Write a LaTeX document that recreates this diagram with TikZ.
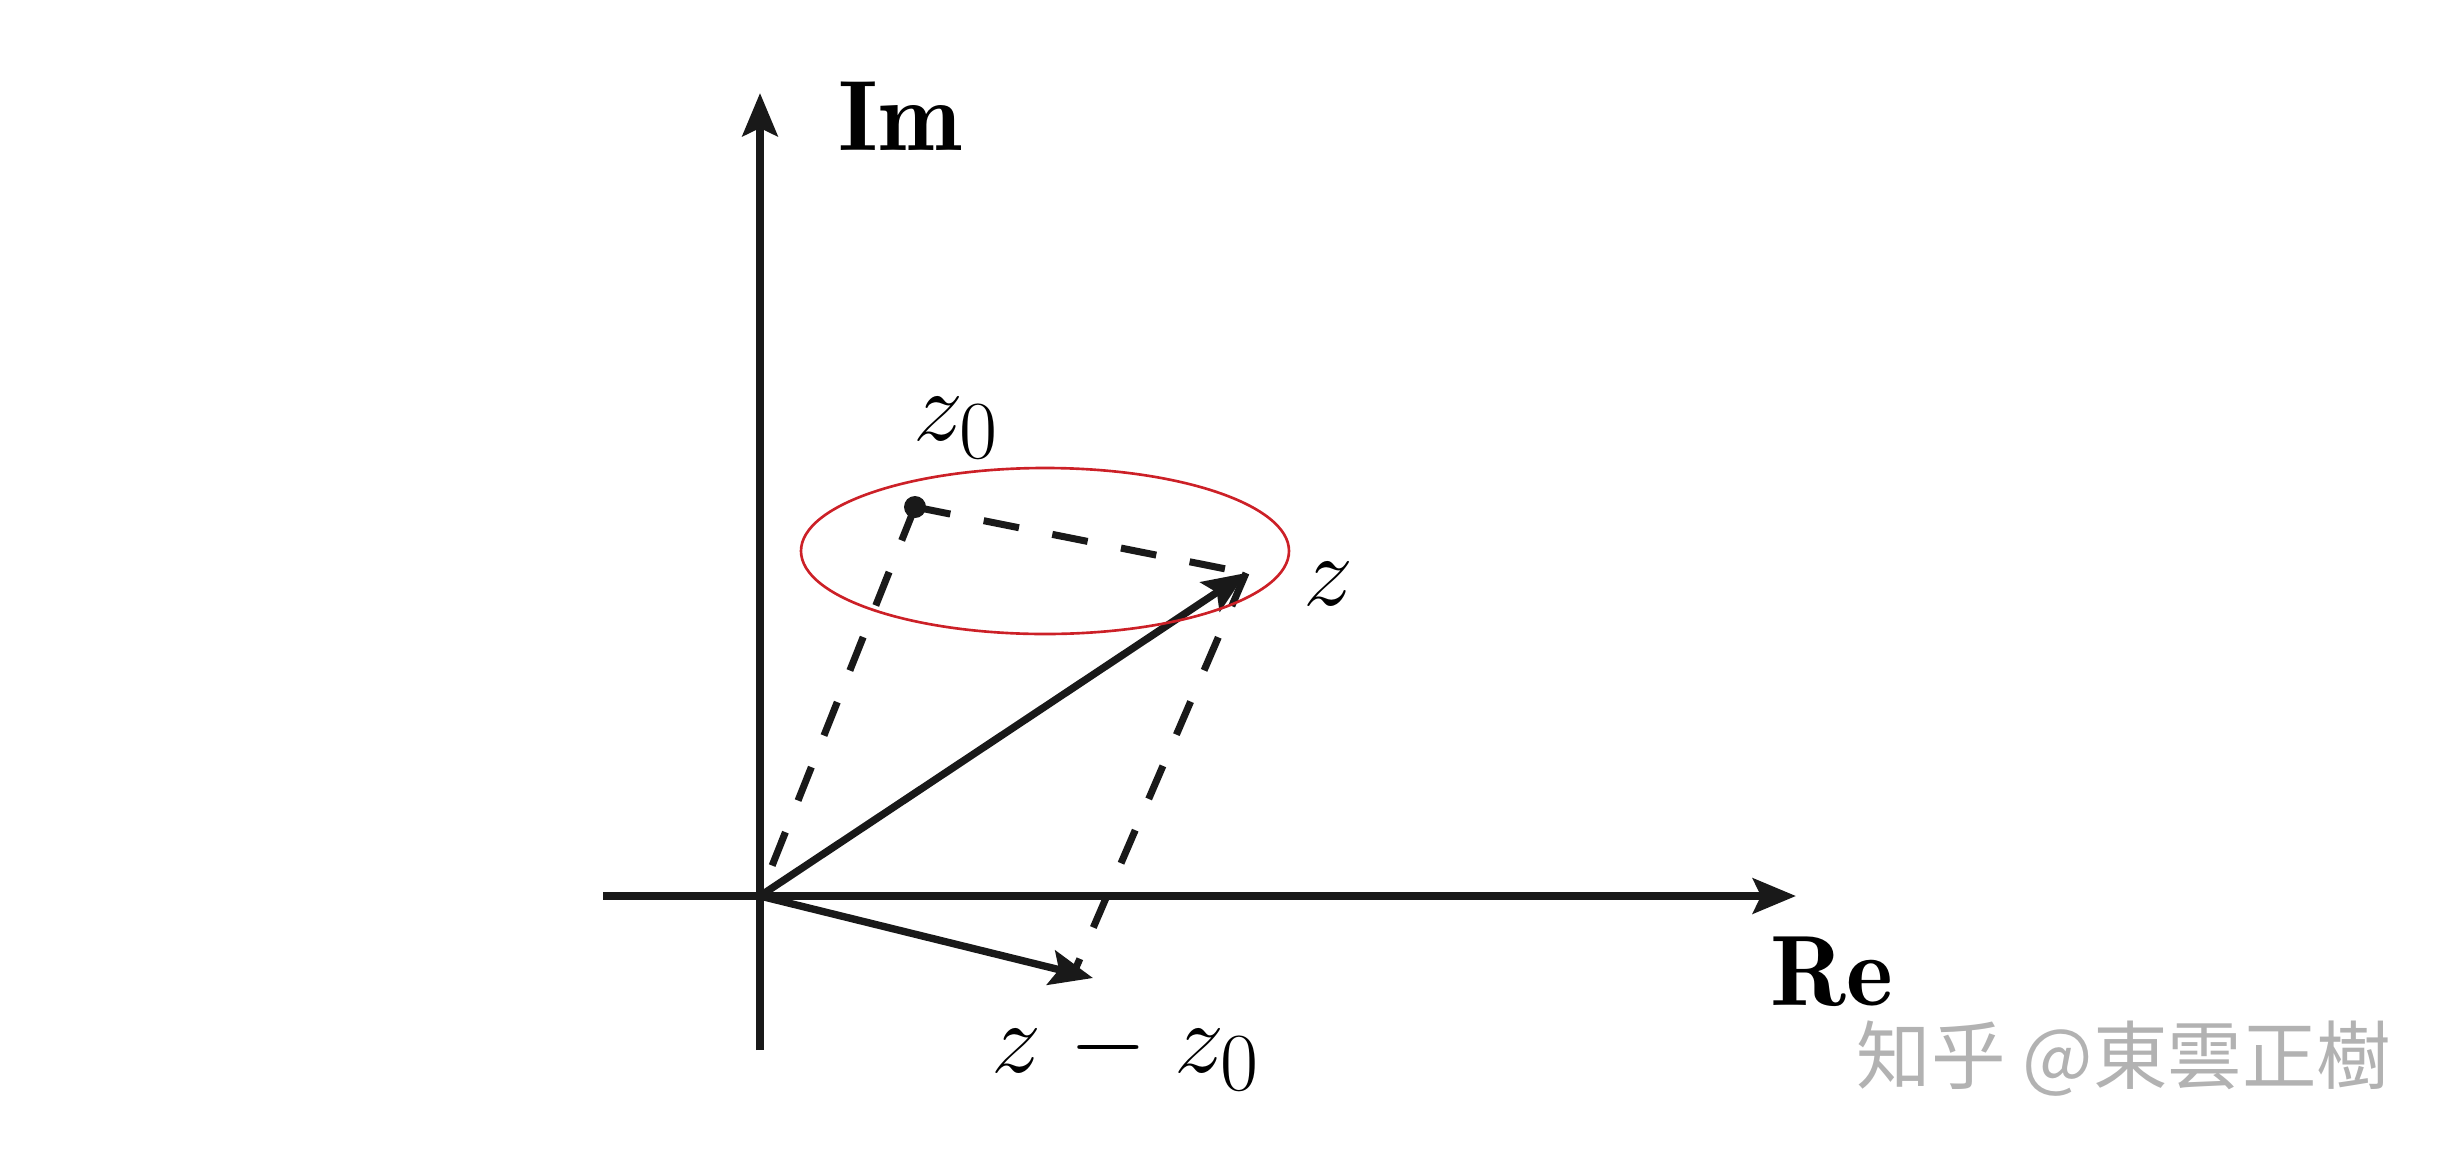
\RequirePackage{fix-cm}
\documentclass[tikz,border=0pt]{standalone}
\usepackage{amsmath}
\usepackage{fontspec}
\newfontfamily\demifont{lmromandemi10-regular.otf}
\newfontfamily\cjkfont{Noto Sans CJK SC}
\usepackage{tikz}
\usetikzlibrary{arrows.meta}
\DeclareMathSizes{28.45}{28.45}{23.5}{18}
\definecolor{discred}{RGB}{204,32,39}
\definecolor{markgray}{RGB}{178,178,178}

\begin{document}
\begin{tikzpicture}
    \tikzstyle{axis} = [
      line width=2.3pt,
      -{Stealth[length=4.3mm,width=3.5mm,inset=0.8mm]},
      draw=black!90,
    ]
    \tikzstyle{vec} = [
      line width=2.1pt,
      -{Stealth[length=4.3mm,width=3.5mm,inset=0.8mm]},
      draw=black!90,
    ]
    \tikzstyle{guide} = [
      line width=2.0pt,
      dash pattern=on 0.36cm off 0.34cm,
      draw=black!90,
    ]
    \tikzstyle{lbl} = [
      inner sep=0pt,
      anchor=base,
      font=\fontsize{28.45}{34}\selectfont,
    ]

    \useasboundingbox (0,0) rectangle (24.51,11.62);

    \coordinate (origo) at (7.60,2.66);
    \coordinate (imbottom) at (7.60,1.12);
    \coordinate (imtop) at (7.60,10.69);
    \coordinate (releft) at (6.03,2.66);
    \coordinate (retip) at (17.96,2.66);
    \coordinate (zzero) at (9.15,6.55);
    \coordinate (zpt) at (12.46,5.89);
    \coordinate (diff) at (10.93,1.84);
    \coordinate (difffoot) at (10.75,1.92);

    % axes
    \draw[axis] (imbottom) -- (imtop);
    \draw[axis] (releft) -- (retip);
    \node[lbl] (imlabel) at (9.00,10.12) {\demifont Im};
    \node[lbl] (relabel) at (18.32,1.57) {\demifont Re};

    % parallelogram
    \draw[guide] (zzero) -- (origo);
    \draw[guide] (zzero) -- (zpt);
    \draw[guide] (zpt) -- (difffoot);
    \draw[vec] (origo) -- (zpt);
    \draw[vec] (origo) -- (diff);
    \fill[black!90] (zzero) circle (0.11);

    \node[lbl,anchor=base west] (zzerolabel) at (9.13,7.22) {$z_0$};
    \node[lbl,anchor=base west] (zlabel) at (13.03,5.57) {$z$};
    \node[lbl,anchor=base west] (difflabel) at (9.91,0.90) {$z \mspace{1mu}-\mspace{1mu} z_0$};

    % neighbourhood of z0
    \draw[discred,line width=0.75pt] (10.45,6.11) ellipse (2.44 and 0.83);

    \node[inner sep=0pt,text=markgray,font=\cjkfont\fontsize{21.2}{26}\selectfont] (mark) at (21.24,1.03) {知乎 @東雲正樹};
\end{tikzpicture}
\end{document}
